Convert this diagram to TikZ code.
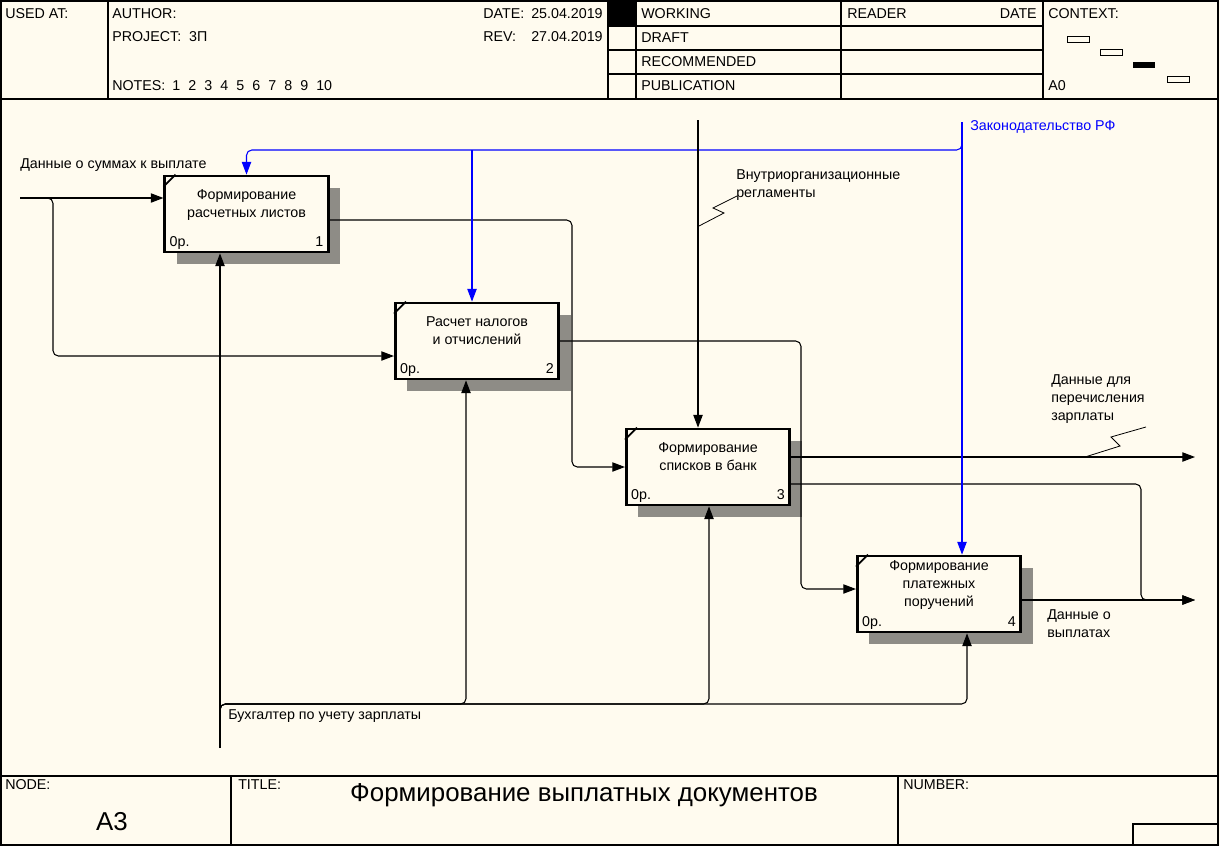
\documentclass[tikz,border=0pt]{standalone}
\usepackage{fontspec}
\setmainfont{Liberation Sans}
\usetikzlibrary{arrows.meta,calc,positioning,shadows}
\definecolor{SheetInk}{HTML}{000000}
\definecolor{SheetPaper}{HTML}{FFFBEF}
\definecolor{LawBlue}{HTML}{0000FF}
\definecolor{ShadeGrey}{HTML}{8E8C86}
\tikzset{
  every node/.style={font=\fontsize{10.7}{13.5}\selectfont, text=SheetInk, inner sep=0pt},
  frame/.style={draw=SheetInk, line width=0.9pt},
  func/.style={draw=SheetInk, line width=2.1pt, fill=SheetPaper, minimum width=122.5pt, minimum height=57pt,
    drop shadow={shadow xshift=9pt, shadow yshift=-9pt, fill=ShadeGrey, opacity=1}},
  functext/.style={align=center},
  flow/.style={-{Triangle[length=9.5pt,width=7pt]}, draw=SheetInk, line width=0.8pt, rounded corners=4pt},
  law/.style={-{Triangle[length=9.5pt,width=7pt]}, draw=LawBlue, line width=0.8pt, rounded corners=4pt},
  squig/.style={draw=SheetInk, line width=0.6pt},
  big/.style={font=\fontsize{19.4}{22}\selectfont},
}

\begin{document}
\begin{tikzpicture}[x=0.75pt,y=-0.75pt]
  \fill[SheetPaper] (0,0) rectangle (1220,846);
  \useasboundingbox (0,0) rectangle (1220,846);

  % sheet frame
  \draw[frame] (1,1) rectangle (1218,845);
  \draw[frame] (1,99) -- (1218,99);
  \draw[frame] (1,776) -- (1218,776);
  \foreach \x in {108,608,636,841,1043}{
    \draw[frame] (\x,1) -- (\x,99);
  }
  \foreach \y in {26,50,74}{
    \draw[frame] (608,\y) -- (1043,\y);
  }
  \fill[SheetInk] (608,1) rectangle (636,26);
  \draw[frame] (231,776) -- (231,845);
  \draw[frame] (898,776) -- (898,845);
  \draw[frame] (1133,845) |- (1218,824);

  % header texts
  \node[anchor=west] (usedat) at (5,14) {USED AT:};
  \node[anchor=west] (author) at (112,14) {AUTHOR:};
  \node[anchor=west] (project) at (112,37) {PROJECT:\ \ 3П};
  \node[anchor=west] (notes) at (112,86) {NOTES:};
  \foreach \n in {1,...,10}{
    \node[anchor=west] (note\n) at ({156+16*\n},86) {\n};
  }
  \node[anchor=west] (date) at (483,14) {DATE:};
  \node[anchor=west] (dateval) at (531,14) {25.04.2019};
  \node[anchor=west] (rev) at (483,37) {REV:};
  \node[anchor=west] (revval) at (531,37) {27.04.2019};
  \node[anchor=west] (working) at (641,14) {WORKING};
  \node[anchor=west] (draft) at (641,38) {DRAFT};
  \node[anchor=west] (recommended) at (641,62) {RECOMMENDED};
  \node[anchor=west] (publication) at (641,86) {PUBLICATION};
  \node[anchor=west] (reader) at (847,14) {READER};
  \node[anchor=east] (readerdate) at (1037,14) {DATE};
  \node[anchor=west] (context) at (1048,14) {CONTEXT:};
  \node[anchor=west] (ctxnode) at (1048,86) {A0};
  \draw[SheetInk, line width=0.7pt] (1067,36) rectangle (1089,42);
  \draw[SheetInk, line width=0.7pt] (1100,49) rectangle (1122,55);
  \fill[SheetInk] (1133,62) rectangle (1155,68);
  \draw[SheetInk, line width=0.7pt] (1167,76) rectangle (1189,82);

  % footer texts
  \node[anchor=west] (nodelbl) at (5,785) {NODE:};
  \node[big] (nodeval) at (112,822) {А3};
  \node[anchor=west] (titlelbl) at (238,785) {TITLE:};
  \node[big] (titleval) at (584,795) {Формирование выплатных документов};
  \node[anchor=west] (numberlbl) at (903,785) {NUMBER:};

  % function boxes
  \node[func] (b1) at (246.5,214) {};
  \node[func] (b2) at (477,341) {};
  \node[func] (b3) at (708,467) {};
  \node[func] (b4) at (939,594) {};
  \node[functext, below=11pt of b1.north] (t1) {Формирование\\расчетных листов};
  \node[functext, below=11pt of b2.north] (t2) {Расчет налогов\\и отчислений};
  \node[functext, below=11pt of b3.north] (t3) {Формирование\\списков в банк};
  \node[functext, below=4pt of b4.north] (t4) {Формирование\\платежных\\поручений};
  \foreach \b/\k in {b1/1,b2/2,b3/3,b4/4}{
    \draw[SheetInk, line width=1.3pt] ($(\b.north west)+(0,12)$) -- ($(\b.north west)+(12,0)$);
    \node[anchor=base west] (\b cost) at ($(\b.south west)+(6,-7)$) {0р.};
    \node[anchor=base east] (\b num) at ($(\b.south east)+(-6,-7)$) {\k};
  }

  % inputs
  \coordinate (in1) at (20,198);
  \coordinate (in1b) at (53,356);
  \node[anchor=west] (in1lbl) at (20,165) {Данные о суммах к выплате};
  \draw[flow] (in1) -- (in1 -| b1.west);
  \draw[flow] (in1) -| (in1b) -- (in1b -| b2.west);

  % outputs between boxes
  \coordinate (o1) at (572,220);
  \coordinate (o2) at (801,341);
  \coordinate (i4) at (857,589);
  \draw[flow] (b1.east |- o1) -- (o1) |- (b3.west);
  \draw[flow] (b2.east) -- (o2) |- (i4 -| b4.west);

  % final outputs
  \coordinate (out3) at (1195,457);
  \coordinate (o3) at (1141,484);
  \coordinate (out4) at (1195,600);
  \draw[flow] (b3.east |- out3) -- (out3);
  \draw[flow] (b3.east |- o3) -- (o3) |- (out4);
  \draw[flow] (b4.east |- out4) -- (out4);
  \node[anchor=west, align=left] (out3lbl) at (1051,399) {Данные для\\перечисления\\зарплаты};
  \draw[squig] (1085,457) -- (1120,446) -- (1111,437) -- (1146,427);
  \node[anchor=west, align=left] (out4lbl) at (1047,624) {Данные о\\выплатах};

  % controls
  \coordinate (lawtop) at (962,122);
  \coordinate (lawj) at (962,150);
  \coordinate (c2) at (472,150);
  \node[anchor=west, text=LawBlue] (lawlbl) at (970,127) {Законодательство РФ};
  \draw[law] (lawtop) -- (lawtop |- b4.north);
  \draw[law] (962,138) -- (lawj) -| (b1.north);
  \draw[law] (c2) -- (c2 |- b2.north);
  \coordinate (regtop) at (698,120);
  \node[anchor=west, align=left] (reglbl) at (736,185) {Внутриорганизационные\\регламенты};
  \draw[flow] (regtop) -- (regtop |- b3.north);
  \draw[squig] (699,226) -- (724,213) -- (713,208) -- (737,196);

  % mechanism
  \coordinate (mech) at (220,748);
  \coordinate (mk) at (220,712);
  \coordinate (m2) at (466,704);
  \coordinate (m3) at (709,704);
  \coordinate (m4) at (967,704);
  \node[anchor=west] (mechlbl) at (228,716) {Бухгалтер по учету зарплаты};
  \draw[flow] (mech) -- (mech |- b1.south);
  \draw[flow] (mk) |- (m2) -- (m2 |- b2.south);
  \draw[flow] (mk) |- (m3) -- (m3 |- b3.south);
  \draw[flow] (mk) |- (m4) -- (m4 |- b4.south);
\end{tikzpicture}
\end{document}
